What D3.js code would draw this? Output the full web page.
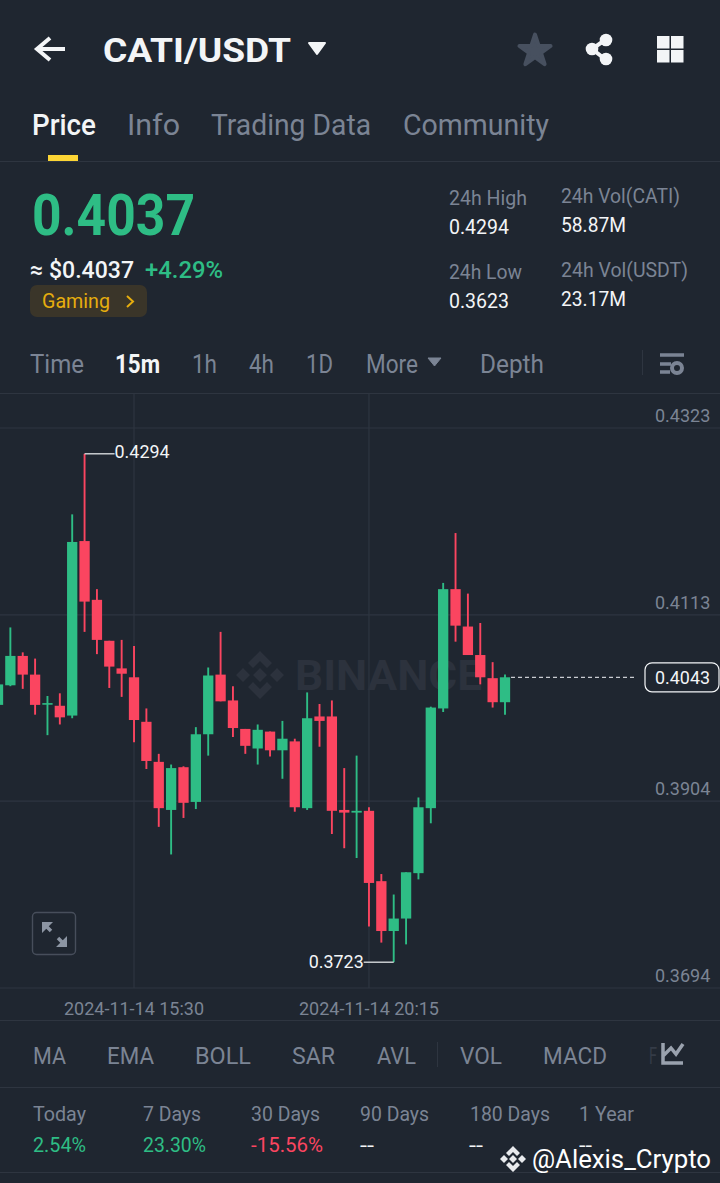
<!DOCTYPE html>
<html><head><meta charset="utf-8">
<script src="https://cdn.jsdelivr.net/npm/d3@7/dist/d3.min.js"></script>
<style>html,body{margin:0;padding:0;background:#1f2630}svg{display:block}text{font-family:Roboto,sans-serif}</style>
</head><body><svg id="c" width="720" height="1183"></svg>
<script>
// open/high/low/close series, index = candle position
const opens  = [.4012,.4034,.4067,.4046,.4013,.4011,.4000,.4196,.4130,.4084,.4053,.4043,.3993,.3948,.3894,.3942,.3903,.3979,.4046,.4017,.3985,.3963,.3982,.3961,.3971,.3896,.3999,.3999,.3894,.3891,.3893,.3814,.3758,.3772,.3823,.3896,.4008,.4142,.4100,.4068,.4042,.4015];
const highs  = [.4036,.4099,.4071,.4064,.4022,.4025,.4226,.4294,.4142,.4084,.4085,.4078,.4008,.3957,.3945,.3943,.3987,.4054,.4094,.4033,.3985,.3990,.3982,.3994,.3974,.4026,.4013,.4017,.3941,.3955,.3897,.3822,.3799,.3824,.3908,.4010,.4149,.4205,.4137,.4104,.4060,.4046];
const lows   = [.4011,.4033,.4030,.4001,.3978,.3990,.3997,.4094,.4069,.4031,.4021,.3970,.3940,.3875,.3844,.3885,.3895,.3955,.4016,.3976,.3957,.3945,.3954,.3929,.3892,.3894,.3965,.3867,.3851,.3840,.3763,.3745,.3723,.3743,.3816,.3879,.4004,.4083,.4068,.4035,.4009,.4001];
const closes = [.4035,.4067,.4046,.4012,.4014,.3998,.4195,.4128,.4085,.4055,.4047,.3995,.3949,.3896,.3941,.3902,.3979,.4045,.4016,.3986,.3966,.3984,.3961,.3974,.3897,.3997,.3994,.3893,.3891,.3893,.3812,.3758,.3772,.3824,.3897,.4009,.4142,.4101,.4068,.4043,.4015,.4043];
const priceTicks = [.4323,.4113,.3904,.3694];
const dateIndex = [11,30];
const dateLabels = ["2024-11-14 15:30","2024-11-14 20:15"];
const lastPrice = .4043;
const maxIndex = 7, minIndex = 32;
const tabs = [["Price",32,96],["Info",127,180],["Trading Data",211,371],["Community",403,549]];
const intervals = [["Time",30,84],["15m",115,160],["1h",192,217],["4h",249,274],["1D",306,333],["More",366,418],["Depth",480,544]];
const indicators = [["MA",33,66],["EMA",107,154],["BOLL",195,251],["SAR",292,335],["AVL",377,416],["VOL",460,502],["MACD",543,607]];
const periods = ["Today","7 Days","30 Days","90 Days","180 Days","1 Year"];
const periodStart = [33,143,251,360,470,579];
const periodEnd = [86,201,320,429,550,634];
const periodValues = ["2.54%","23.30%","-15.56%","--","--","--"];
const periodValueEnd = [86,206,323,374,483,592];

const UP="#2ebd85",DOWN="#fb4560",BG="#1f2630",GRID="#2e3540",GRAY="#7b8494",WHITE="#f3f5f7";
const svg=d3.select("#c");
svg.append("rect").attr("width",720).attr("height",1183).attr("fill",BG);
function T(s,x0,x1,y,size,fill,weight,parent){
  const t=(parent||svg).append("text").attr("x",x0).attr("y",y).attr("font-size",size).attr("fill",fill).attr("font-weight",weight||400).text(s);
  if(x1!=null) t.attr("textLength",x1-x0).attr("lengthAdjust","spacingAndGlyphs");
  return t;
}
function hline(y,c){svg.append("line").attr("x1",0).attr("x2",720).attr("y1",y).attr("y2",y).attr("stroke",c||GRID).attr("stroke-width",1.2);}

// header
svg.append("path").attr("d","M65 49H38M50 38L37 49L50 60").attr("fill","none").attr("stroke",WHITE).attr("stroke-width",4);
T("CATI/USDT",103,291,62,34,WHITE,700);
svg.append("path").attr("d","M309 43H325L317 54Z").attr("fill",WHITE).attr("stroke",WHITE).attr("stroke-width",2).attr("stroke-linejoin","round");
svg.append("path").attr("d",d3.symbol(d3.symbolStar,300)).attr("transform","translate(535,51)").attr("fill","#47505f").attr("stroke","#47505f").attr("stroke-width",4).attr("stroke-linejoin","round");
svg.append("path").attr("d","M605 40L592 49L605 59").attr("fill","none").attr("stroke",WHITE).attr("stroke-width",4);
[[606,40],[592,49],[606,59]].forEach(p=>svg.append("circle").attr("cx",p[0]).attr("cy",p[1]).attr("r",6.3).attr("fill",WHITE));
[[657,36],[671,36],[657,50],[671,50]].forEach(p=>svg.append("rect").attr("x",p[0]).attr("y",p[1]).attr("width",12.5).attr("height",12.5).attr("fill",WHITE));

// tabs
tabs.forEach((d,i)=>T(d[0],d[1],d[2],135,29,i?GRAY:WHITE,i?400:500));
svg.append("rect").attr("x",48).attr("y",155).attr("width",30).attr("height",6).attr("fill","#fcd535");
hline(161.5);

// price block
T("0.4037",32,195,235,57,UP,700);
T("≈ $0.4037",30,134,278,24,WHITE,500);
T("+4.29%",145,223,278,23,UP,500);
svg.append("rect").attr("x",30).attr("y",285).attr("width",117).attr("height",32).attr("rx",7).attr("fill","#3a3529");
T("Gaming",42,110,308,21,"#e6ad0e");
svg.append("path").attr("d","M127 296L133 301.500L127 307").attr("fill","none").attr("stroke","#e6ad0e").attr("stroke-width",2);
T("24h High",449,527,205,21,GRAY);T("0.4294",449,509,234,20,WHITE);
T("24h Vol(CATI)",561,680,203,21,GRAY);T("58.87M",561,626,232,20,WHITE);
T("24h Low",449,522,279,21,GRAY);T("0.3623",449,509,308,20,WHITE);
T("24h Vol(USDT)",561,688,277,21,GRAY);T("23.17M",561,626,306,20,WHITE);

// interval row
intervals.forEach((d,i)=>T(d[0],d[1],d[2],373,25,i==1?WHITE:GRAY,i==1?700:400));
svg.append("path").attr("d","M428 358H441L434.500 366Z").attr("fill",GRAY).attr("stroke",GRAY).attr("stroke-linejoin","round");
svg.append("line").attr("x1",642.500).attr("x2",642.500).attr("y1",350).attr("y2",375).attr("stroke",GRID);
svg.append("path").attr("d","M660 355H684M660 364H671M660 372H670").attr("stroke",GRAY).attr("stroke-width",3.500);
svg.append("circle").attr("cx",677).attr("cy",368).attr("r",5).attr("fill","none").attr("stroke",GRAY).attr("stroke-width",4);
hline(393.5);

// chart
const y=d3.scaleLinear().domain([.3694,.4323]).range([988,428]);
const x=d3.scaleLinear().domain([0,41]).range([-2,505]);
const candles=d3.range(opens.length);
const W=10.3;

const gridG=svg.append("g");
gridG.selectAll("line.h").data(priceTicks).join("line").attr("x1",0).attr("x2",720).attr("y1",d=>y(d)).attr("y2",d=>y(d)).attr("stroke",GRID).attr("stroke-width",1.2);
gridG.selectAll("line.v").data(dateIndex).join("line").attr("class","v").attr("x1",d=>x(d)).attr("x2",d=>x(d)).attr("y1",394).attr("y2",988).attr("stroke",GRID).attr("stroke-width",1.2);

// watermark
const wm=svg.append("g").attr("fill","#2c323d");
wm.append("path").attr("d","M260 651L272 663L267 668L260 661L253 668L248 663ZM260 699L272 687L267 682L260 689L253 682L248 687ZM243 668L250 675L243 682L236 675ZM277 668L284 675L277 682L270 675ZM260 668L267 675L260 682L253 675Z");
T("BINANCE",295,482,690,42,"#2c323d",700);

// y axis labels
const axis=d3.axisRight(y).tickValues(priceTicks).tickFormat(d3.format(".4f")).tickSize(0).tickPadding(0);
const ax=svg.append("g").attr("transform","translate(655,0)").call(axis);
ax.select(".domain").remove();
ax.selectAll("text").attr("font-size",18).attr("fill",GRAY).attr("dy",0).attr("y",-6.4).style("font-family","Roboto,sans-serif");

// x labels
svg.selectAll("text.date").data(dateIndex).join("text").attr("class","date").attr("x",d=>x(d)).attr("y",1015).attr("text-anchor","middle").attr("font-size",18).attr("fill",GRAY).attr("textLength",140).attr("lengthAdjust","spacingAndGlyphs").text((d,i)=>dateLabels[i]);

// candles
const col=i=>closes[i]>=opens[i]?UP:DOWN;
const cg=svg.append("g");
cg.selectAll("line.wick").data(candles).join("line").attr("class","wick").attr("x1",i=>x(i)).attr("x2",i=>x(i)).attr("y1",i=>y(highs[i])).attr("y2",i=>y(lows[i])).attr("stroke",col).attr("stroke-width",1.9);
cg.selectAll("rect.body").data(candles).join("rect").attr("class","body").attr("x",i=>x(i)-W/2).attr("width",W)
  .attr("y",i=>y(Math.max(opens[i],closes[i])))
  .attr("height",i=>Math.max(1.6,Math.abs(y(opens[i])-y(closes[i])))).attr("fill",col);

// hi / lo callouts
const mx=x(maxIndex),my=y(highs[maxIndex]);
svg.append("path").attr("d",`M${mx} ${my}H${mx+30}`).attr("stroke",WHITE).attr("stroke-width",1.2).attr("fill","none");
T(d3.format(".4f")(highs[maxIndex]),mx+30,mx+85,my+4.500,18,WHITE);
const nx=x(minIndex),ny=y(lows[minIndex]);
svg.append("path").attr("d",`M${nx} ${ny}H${nx-30}`).attr("stroke",WHITE).attr("stroke-width",1.2).attr("fill","none");
T(d3.format(".4f")(lows[minIndex]),nx-85,nx-30,ny+5.500,18,WHITE);

// last price
svg.append("line").attr("x1",x(41)+6).attr("x2",636).attr("y1",y(lastPrice)).attr("y2",y(lastPrice)).attr("stroke","#c9ccd1").attr("stroke-width",1.2).attr("stroke-dasharray","4 3");
svg.append("rect").attr("x",645).attr("y",y(lastPrice)-14.5).attr("width",74).attr("height",29).attr("rx",7).attr("fill",BG).attr("stroke",WHITE).attr("stroke-width",1.2);
T(d3.format(".4f")(lastPrice),655,710,y(lastPrice)+6.500,18,WHITE);

// expand button
svg.append("rect").attr("x",32.500).attr("y",912.500).attr("width",43).attr("height",42).attr("rx",4).attr("fill",BG).attr("stroke","#474e5b").attr("stroke-width",1.4);
svg.append("path").attr("d","M46 926L51 931M58 938L63 943").attr("stroke","#8c95a3").attr("stroke-width",3.500);
svg.append("path").attr("d","M42 922H53L42 933ZM67 947H56L67 936Z").attr("fill","#8c95a3");

hline(1020.5);
// indicators
indicators.forEach(d=>T(d[0],d[1],d[2],1064,24,GRAY));
svg.append("line").attr("x1",437.500).attr("x2",437.500).attr("y1",1042).attr("y2",1067).attr("stroke",GRID);
T("F",649,657,1064,23,"#343b47");
svg.append("path").attr("d","M663 1043V1063H683M663 1056L671 1048L676 1054L683 1044").attr("fill","none").attr("stroke","#9aa2ae").attr("stroke-width",3.500);
hline(1087.5);

// periods
periods.forEach((p,i)=>T(p,periodStart[i],periodEnd[i],1121,21,GRAY));
periodValues.forEach((v,i)=>T(v,i>2?[360,469,579][i-3]:periodStart[i],periodValueEnd[i],1152,20,i==2?DOWN:i<2?UP:WHITE));
hline(1172.5);

// corner mark
svg.append("path").attr("fill","#e8eaed").attr("d","M513 1146L520 1153L517 1156L513 1152L509 1156L506 1153ZM513 1172L520 1165L517 1162L513 1166L509 1162L506 1165ZM504 1155L508 1159L504 1163L500 1159ZM522 1155L526 1159L522 1163L518 1159ZM513 1155L517 1159L513 1163L509 1159Z");
T("@Alexis_Crypto",532,711,1168,26,"#ffffff");
</script></body></html>
